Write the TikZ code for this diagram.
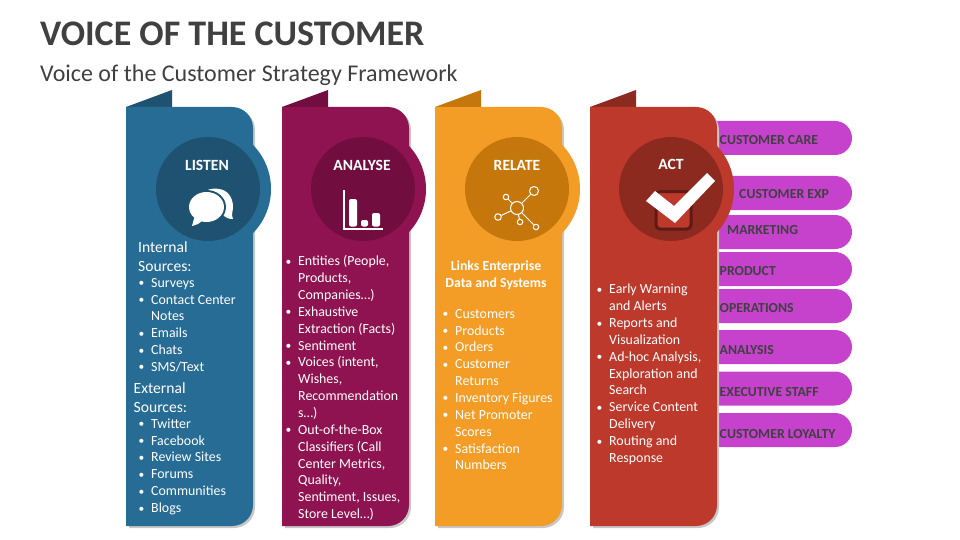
\documentclass[tikz,border=0pt]{standalone}
\usepackage{fontspec}
\setmainfont{Carlito}
\usetikzlibrary{shapes.misc}

\definecolor{listenblue}{HTML}{276C94}
\definecolor{listendark}{HTML}{1F5270}
\definecolor{analysered}{HTML}{8F1350}
\definecolor{analysedark}{HTML}{710E3F}
\definecolor{relateorange}{HTML}{F39C26}
\definecolor{relatedark}{HTML}{C5770C}
\definecolor{actred}{HTML}{BC392C}
\definecolor{actdark}{HTML}{8C2A20}
\definecolor{boxdark}{HTML}{5E1A14}
\definecolor{pillpurple}{HTML}{C642CC}
\definecolor{inkgrey}{HTML}{404040}

\tikzset{
  ring/.style={circle,minimum size=126pt,inner sep=0pt},
  disc/.style={circle,minimum size=104pt,inner sep=0pt},
  cardtitle/.style={text=white,font=\fontsize{15.6}{17}\selectfont\bfseries},
  cardtext/.style={text=white,anchor=north west,align=left,inner sep=0pt,font=\fontsize{13.9}{16.85}\selectfont},
  pill/.style={fill=pillpurple,rounded rectangle,rounded rectangle left arc=none,minimum width=152pt,minimum height=34pt,inner sep=0pt},
  pilltext/.style={text=inkgrey,anchor=west,inner sep=0pt,font=\fontsize{13.8}{15}\selectfont\bfseries},
}

% card body with its folded tab: left edge, colour, tab colour
\newcommand{\card}[3]{
  \fill[black!22] (#1+3,528) -- (#1+3,109) [rounded corners=21pt] -- (#1+129,109) -- (#1+129,528) [sharp corners] -- (#1+3,528) -- cycle;
  \fill[#3] (#1,107) -- (#1+46,90) -- (#1+46,107) -- cycle;
  \fill[#2] (#1,526) -- (#1,107) [rounded corners=21pt] -- (#1+127,107) -- (#1+127,526) [sharp corners] -- (#1,526) -- cycle;
}
\newcommand{\bul}{\makebox[13pt][l]{\hspace*{0.5pt}\raisebox{0.5pt}{\fontsize{11.5}{11.5}\selectfont •}}}
\newcommand{\ind}{\hspace*{13pt}}

\begin{document}
\begin{tikzpicture}[x=1pt,y=-1pt]
  \useasboundingbox (0,0) rectangle (960,540);

  \node[anchor=west,inner sep=0pt,text=inkgrey,font=\fontsize{36}{38}\selectfont\bfseries] (title) at (40,34) {VOICE OF THE CUSTOMER};
  \node[anchor=west,inner sep=0pt,text=inkgrey,font=\fontsize{24}{26}\selectfont] (subtitle) at (40,75) {Voice of the Customer Strategy Framework};

  % pills behind the last card
  \node[pill] (care) at (776,138) {};
  \node[pill] (exp) at (776,193) {};
  \node[pill] (marketing) at (776,232) {};
  \node[pill] (product) at (776,269) {};
  \node[pill] (operations) at (776,306) {};
  \node[pill] (analysis) at (776,347) {};
  \node[pill] (staff) at (776,388.5) {};
  \node[pill] (loyalty) at (776,430) {};
  \node[pilltext] (caretext) at (719.5,140.5) {CUSTOMER CARE};
  \node[pilltext] (exptext) at (739,194.5) {CUSTOMER EXP};
  \node[pilltext] (marketingtext) at (727,230.5) {MARKETING};
  \node[pilltext] (producttext) at (719.5,271.5) {PRODUCT};
  \node[pilltext] (operationstext) at (719.5,308.5) {OPERATIONS};
  \node[pilltext] (analysistext) at (719.5,350.5) {ANALYSIS};
  \node[pilltext] (stafftext) at (719.5,392.5) {EXECUTIVE STAFF};
  \node[pilltext] (loyaltytext) at (719.5,434.5) {CUSTOMER LOYALTY};

  % listen
  \card{126}{listenblue}{listendark}
  \node[ring,fill=listenblue] (listenring) at (208,189) {};
  \node[disc,fill=listendark] (listendisc) at (208,189) {};
  \node[cardtitle] (listentitle) at (207,165) {LISTEN};
  \fill[white] (205,191) .. controls (211,188) and (216,188.5) .. (219,189) .. controls (228,190) and (233,198) .. (233,207) .. controls (233,211) and (231,215) .. (233,219) .. controls (229,219) and (226,218) .. (224,216) -- (212,200) -- cycle;
  \fill[listendark] (206.5,207) ellipse (19.5 and 17);
  \fill[white] (206.5,207) ellipse (17.5 and 15);
  \fill[white] (195,215) -- (202,221) -- (198,224) -- (192,226) -- cycle;
  \node[cardtext,font=\fontsize{15.6}{18.5}\selectfont] (listeninternal) at (138,241.5) {Internal\\Sources:};
  \node[cardtext] (listeninternallist) at (138,278) {\bul Surveys\\\bul Contact Center\\\ind Notes\\\bul Emails\\\bul Chats\\\bul SMS/Text};
  \node[cardtext,font=\fontsize{15.6}{18.5}\selectfont] (listenexternal) at (133.5,382.5) {External\\Sources:};
  \node[cardtext] (listenexternallist) at (138,418.5) {\bul Twitter\\\bul Facebook\\\bul Review Sites\\\bul Forums\\\bul Communities\\\bul Blogs};

  % analyse
  \card{282}{analysered}{analysedark}
  \node[ring,fill=analysered] (analysering) at (363,189) {};
  \node[disc,fill=analysedark] (analysedisc) at (363,189) {};
  \node[cardtitle] (analysetitle) at (362,165) {ANALYSE};
  \fill[white] (343,190) rectangle (344.5,229);
  \fill[white] (343,228) rectangle (383,229.5);
  \fill[white,rounded corners=2pt] (349,226.5) -- (349,199) -- (357,199) -- (357,226.5) -- cycle;
  \fill[white,rounded corners=2pt] (361,226.5) -- (361,220) -- (368,220) -- (368,226.5) -- cycle;
  \fill[white,rounded corners=2pt] (372,226.5) -- (372,213) -- (380,213) -- (380,226.5) -- cycle;
  \node[cardtext] (analyselist) at (285,255.5) {\bul Entities (People,\\\ind Products,\\\ind Companies…)\\\bul Exhaustive\\\ind Extraction (Facts)\\\bul Sentiment\\\bul Voices (intent,\\\ind Wishes,\\\ind Recommendation\\\ind s…)\\\bul Out-of-the-Box\\\ind Classifiers (Call\\\ind Center Metrics,\\\ind Quality,\\\ind Sentiment, Issues,\\\ind Store Level…)};

  % relate
  \card{435}{relateorange}{relatedark}
  \node[ring,fill=relateorange] (relatering) at (517,189) {};
  \node[disc,fill=relatedark] (relatedisc) at (517,189) {};
  \node[cardtitle] (relatetitle) at (517,165) {RELATE};
  \begin{scope}[every node/.style={circle,draw=white,line width=1pt,inner sep=0pt}]
    \node[minimum size=13pt] (hub) at (517,208) {};
    \node[minimum size=9pt] (hubne) at (534,191) {};
    \node[minimum size=5.5pt] (hubnw) at (506,197) {};
    \node[minimum size=6.5pt] (hubw) at (498,217) {};
    \node[minimum size=5.5pt] (hubs) at (520,222) {};
    \node[minimum size=5.5pt] (hubse) at (536,227) {};
  \end{scope}
  \draw[white,line width=1pt] (hub)--(hubne);
  \draw[white,line width=1pt] (hub)--(hubnw);
  \draw[white,line width=1pt] (hub)--(hubw);
  \draw[white,line width=1pt] (hub)--(hubs);
  \draw[white,line width=1pt] (hub)--(hubse);
  \node[text=white,align=center,inner sep=0pt,font=\fontsize{13.8}{17}\selectfont\bfseries] (relatehead) at (496,275) {Links Enterprise\\Data and Systems};
  \node[cardtext] (relatelist) at (442,309) {\bul Customers\\\bul Products\\\bul Orders\\\bul Customer\\\ind Returns\\\bul Inventory Figures\\\bul Net Promoter\\\ind Scores\\\bul Satisfaction\\\ind Numbers};

  % act
  \card{590}{actred}{actdark}
  \node[ring,fill=actred] (actring) at (671,189) {};
  \node[disc,fill=actdark] (actdisc) at (671,189) {};
  \node[cardtitle] (acttitle) at (671,164) {ACT};
  \draw[boxdark,fill=actred,line width=3pt,rounded corners=4pt] (656,191.5) -- (691,191.5) -- (691,229) -- (656,229) -- cycle;
  \fill[white] (646,201) -- (655,191) -- (674,206) -- (707,173) -- (715,181) -- (675,223) -- cycle;
  \node[cardtext] (actlist) at (596,284) {\bul Early Warning\\\ind and Alerts\\\bul Reports and\\\ind Visualization\\\bul Ad-hoc Analysis,\\\ind Exploration and\\\ind Search\\\bul Service Content\\\ind Delivery\\\bul Routing and\\\ind Response};
\end{tikzpicture}
\end{document}
